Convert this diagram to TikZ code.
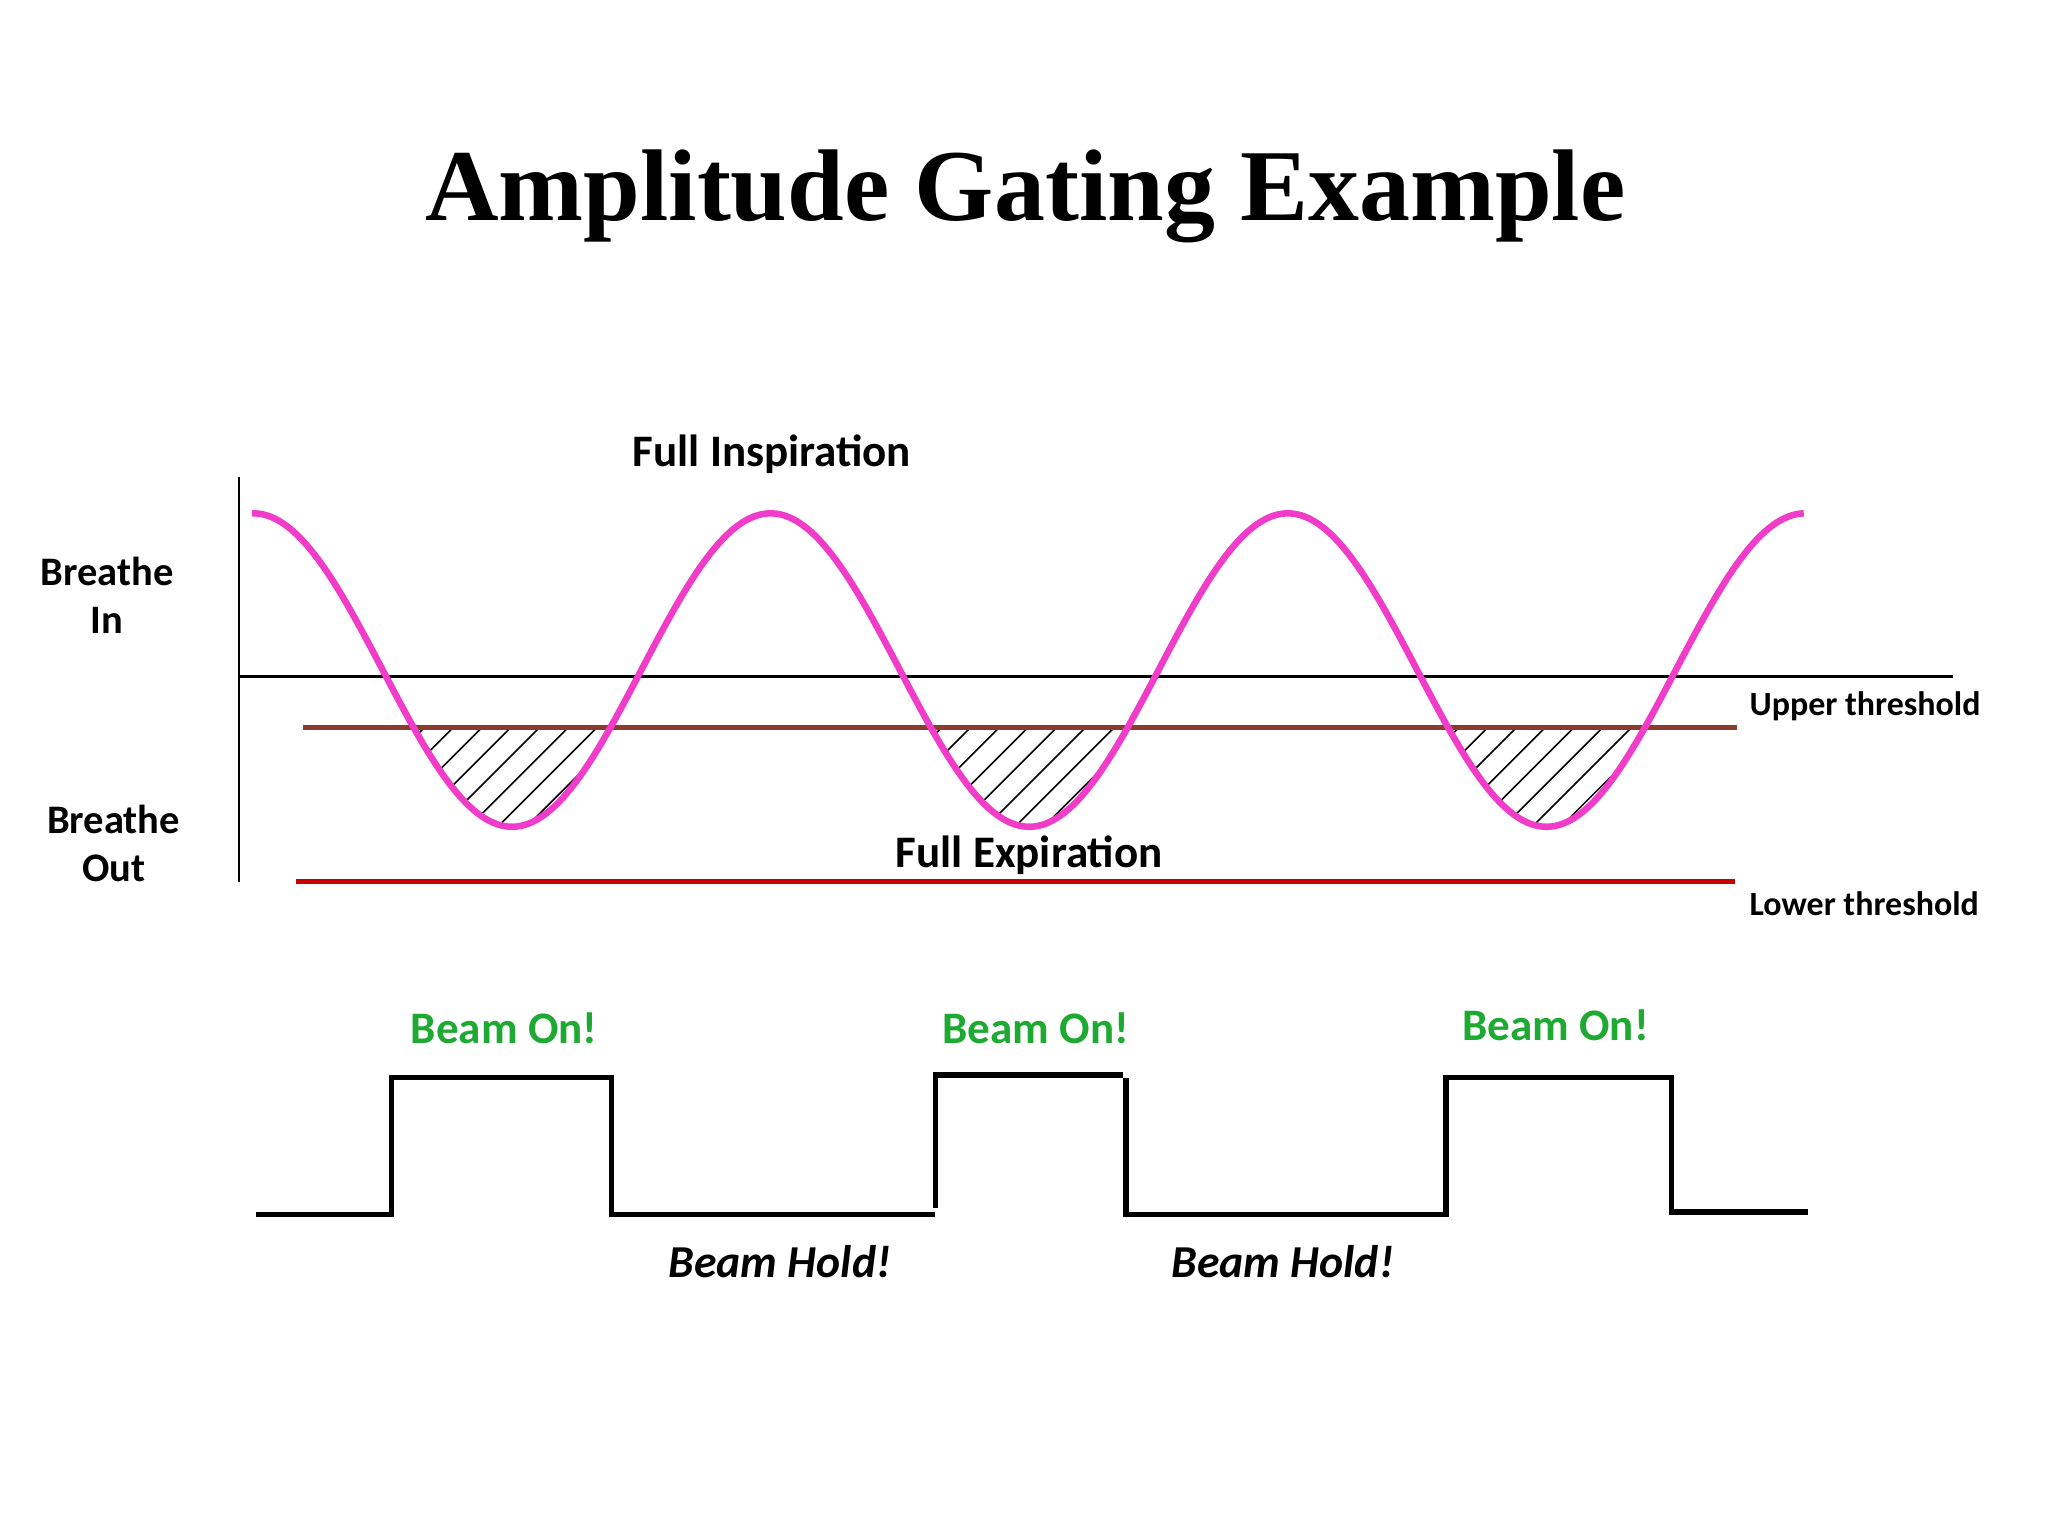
\documentclass[tikz,border=0pt]{standalone}
\usepackage{fontspec}
\setmainfont{Carlito}
\newfontfamily\titlefont{Liberation Serif}
\begin{document}
\begin{tikzpicture}[x=1pt,y=-1pt,
  lbl/.style={font=\fontsize{31}{37}\selectfont\bfseries,align=center},
  big/.style={font=\fontsize{34.5}{40}\selectfont\bfseries},
  thr/.style={font=\fontsize{26}{30}\selectfont\bfseries,anchor=west},
  on/.style={font=\fontsize{34.5}{40}\selectfont\bfseries,text={rgb,255:red,30;green,170;blue,50}},
  hold/.style={font=\fontsize{35}{40}\selectfont\bfseries\itshape},
  sq/.style={line width=4pt,black}]
\useasboundingbox (0,0) rectangle (1568,1176);
\fill[white] (0,0) rectangle (1568,1176);
\node[font=\titlefont\fontsize{78}{84}\selectfont\bfseries] (title) at (785,150) {Amplitude Gating Example};
% axes
\draw[line width=1.8pt] (183,365) -- (183,675);
\draw[line width=1.8pt] (183,518) -- (1495,518);
% hatching
\begin{scope}
\clip (232,557) -- plot[domain=232:1330,samples=300] (\x,{513-120*cos(deg(2*pi*(\x-194)/396))}) -- (1330,557) -- cycle;
\foreach \k in {0,...,60}{
  \draw[line width=1.2pt] ({200+22*\k},660) -- ({200+22*\k+120},540);
}
\end{scope}
\fill[white] (232,520) rectangle (1340,556);
% thresholds
\draw[line width=4pt,color={rgb,255:red,140;green,60;blue,45}] (232,557) -- (1330,557);
\draw[line width=4pt,color={rgb,255:red,200;green,0;blue,0}] (227,675) -- (1328,675);
% curve
\draw[line width=5pt,color={rgb,255:red,240;green,60;blue,200}] plot[domain=193:1381,samples=400] (\x,{513-120*cos(deg(2*pi*(\x-194)/396))});
% labels
\node[big] (fi) at (591,348) {Full Inspiration};
\node[big] (fe) at (788,655) {Full Expiration};
\node[lbl] (bi) at (82,456) {Breathe\\In};
\node[lbl] (bo) at (87,646) {Breathe\\Out};
\node[thr] (ut) at (1336,541) {Upper threshold};
\node[thr] (lt) at (1336,692) {Lower threshold};
% square wave
\draw[sq] (196,930) -- (300,930) -- (300,825) -- (468,825) -- (468,930) -- (716,930);
\draw[sq] (716,925) -- (716,823) -- (860,823);
\draw[sq] (862,825) -- (862,930) -- (1107,930) -- (1107,825) -- (1280,825) -- (1280,928) -- (1384,928);
\node[on] (on1) at (386,787) {Beam On!};
\node[on] (on2) at (793,787) {Beam On!};
\node[on] (on3) at (1191,785) {Beam On!};
\node[hold] (h1) at (597,966) {Beam Hold!};
\node[hold] (h2) at (982,966) {Beam Hold!};
\end{tikzpicture}
\end{document}
